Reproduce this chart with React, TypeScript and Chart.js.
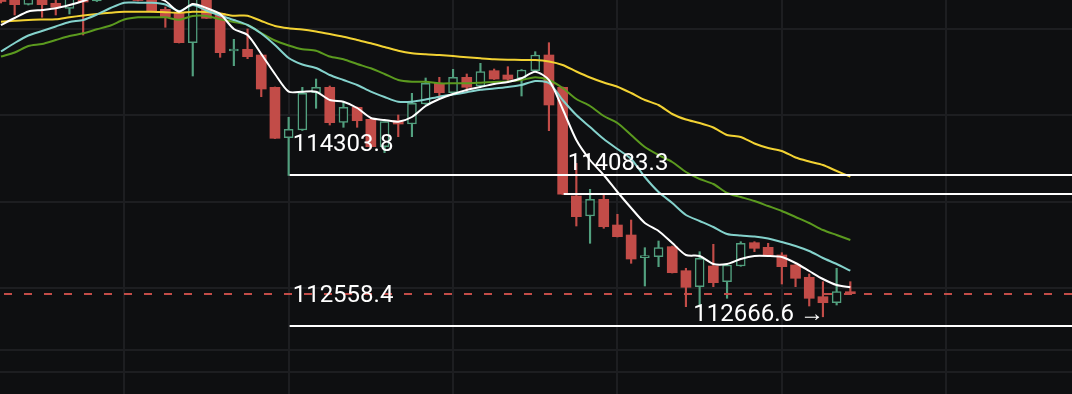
import React, { useEffect, useRef } from 'react';
import { Chart, registerables } from 'chart.js';

Chart.register(...registerables);

// ---- data (candle index 0 = first candle of the lower swing) ----
const firstIndex = -21;

const opens = [
  116393.8, 116405.4, 116286.1, 116382.2, 116297.7, 116239.8, 116382.2, 116324.3, 116451.7, 116544.4, 116428.6,
  116359.1, 116228.2, 116181.8, 115841.3, 116370.6, 116181.8, 115745.2, 115764.9, 115698.8, 115324.7,
  114740.9, 114830.1, 115262.2, 115324.7, 114919.3, 115093.0, 114954.0, 114636.7, 114937.8, 114899.6,
  115131.3, 115371.0, 115262.2, 115440.5, 115339.8, 115517.0, 115467.2, 115429.0, 115517.0, 115698.8,
  115324.7, 114065.6, 113834.0, 114027.4, 113729.7, 113613.9, 113351.0, 113362.6, 113478.4, 113200.4,
  113015.1, 113254.8, 113073.0, 113254.8, 113524.7, 113471.4, 113382.2, 113266.4, 113124.0, 112899.2,
  112829.7, 112957.1,
];
const highs = [
  116428.6, 116428.6, 116428.6, 116405.4, 116359.1, 116393.8, 116405.4, 116474.9, 116590.7, 116590.7, 116451.7,
  116382.2, 116254.8, 116196.9, 116382.2, 116393.8, 116185.3, 115880.7, 116000.0, 115710.4, 115328.2,
  114977.2, 115324.7, 115420.8, 115339.8, 115157.9, 115096.5, 114957.5, 114928.6, 115003.9, 115255.2,
  115432.4, 115440.5, 115533.2, 115478.8, 115602.7, 115536.7, 115563.3, 115530.9, 115737.1, 115841.3,
  115328.2, 114444.4, 114143.2, 114096.9, 113853.7, 113787.6, 113466.8, 113544.4, 113486.5, 113228.2,
  113420.5, 113506.2, 113269.9, 113536.3, 113536.3, 113517.8, 113408.9, 113269.9, 113162.2, 113073.0,
  113228.2, 113073.0,
];
const lows = [
  116301.2, 116162.2, 116278.0, 116135.5, 116162.2, 116173.7, 115930.5, 116318.5, 116428.6, 116451.7, 116324.3,
  116196.9, 116019.7, 115837.8, 115455.6, 116121.6, 115672.2, 115574.9, 115656.0, 115215.8, 114730.5,
  114303.8, 114824.3, 115081.5, 114888.0, 114861.4, 114861.4, 114621.6, 114567.2, 114752.5, 114752.5,
  115125.5, 115208.9, 115258.7, 115262.2, 115334.0, 115415.0, 115378.0, 115223.9, 115513.5, 114822.0,
  114083.3, 113718.1, 113517.8, 113691.5, 113590.7, 113286.1, 113023.2, 113246.7, 113173.7, 112783.4,
  112783.4, 113015.1, 112880.7, 113251.3, 113420.5, 113378.7, 113046.3, 113015.1, 112791.5, 112666.6,
  112803.1, 112930.5,
];
const closes = [
  116318.5, 116281.5, 116405.4, 116281.5, 116251.3, 116370.6, 116312.7, 116451.7, 116567.6, 116474.9, 116330.1,
  116200.4, 116142.5, 115841.3, 116359.1, 116123.9, 115725.5, 115750.9, 115679.1, 115305.0, 114734.0,
  114838.2, 115255.2, 115324.7, 114914.7, 115093.0, 114937.8, 114636.7, 114926.2, 114899.6, 115139.4,
  115371.0, 115262.2, 115440.5, 115324.7, 115505.4, 115420.8, 115417.4, 115525.1, 115698.8, 115119.7,
  114088.0, 113825.9, 114027.4, 113710.0, 113594.2, 113335.9, 113362.6, 113466.8, 113177.2, 113008.1,
  113344.0, 113061.4, 113266.4, 113517.8, 113459.8, 113382.2, 113246.7, 113112.4, 112880.7, 112829.7,
  112957.1, 112934.0,
];

const maWhite = [
  116046.3, 116127.4, 116202.7, 116220.1, 116239.8, 116278.0, 116324.3, 116382.2, 116428.6, 116451.7, 116428.6,
  116382.2, 116324.3, 116200.4, 116289.6, 116243.2, 116173.7, 116000.0, 115930.5, 115710.4, 115478.8,
  115273.7, 115273.7, 115273.7, 115177.6, 115157.9, 115084.9, 114969.1, 114945.9, 114926.2, 114980.7,
  115108.1, 115189.2, 115247.1, 115293.4, 115328.2, 115362.9, 115386.1, 115429.0, 115505.4, 115409.3,
  115073.4, 114714.3, 114482.6, 114308.9, 114112.0, 113926.6, 113752.9, 113660.2, 113521.2, 113382.2,
  113370.7, 113278.0, 113278.0, 113335.9, 113370.7, 113370.7, 113359.1, 113289.6, 113196.9, 113104.2,
  113034.7, 113008.1,
];
const maCyan = [
  115739.4, 115837.8, 115924.7, 115976.8, 116029.0, 116081.1, 116104.2, 116167.9, 116243.2, 116304.6, 116304.6,
  116303.5, 116283.8, 116208.5, 116278.0, 116214.3, 116156.4, 116104.2, 116046.3, 115947.9, 115814.7,
  115664.1, 115588.8, 115548.3, 115467.2, 115409.3, 115351.3, 115273.7, 115212.3, 115157.9, 115157.9,
  115183.4, 115215.8, 115241.3, 115266.8, 115295.7, 115310.8, 115328.2, 115351.3, 115397.7, 115374.5,
  115177.6, 115003.9, 114864.9, 114725.9, 114610.0, 114494.2, 114285.7, 114112.0, 113984.6, 113845.6,
  113776.1, 113706.6, 113625.5, 113608.1, 113596.5, 113573.4, 113532.8, 113486.5, 113428.6, 113347.5,
  113278.0, 113200.4,
];
const maGreen = [
  115681.5, 115727.8, 115803.1, 115826.2, 115872.6, 115918.9, 115950.2, 115996.5, 116040.5, 116110.0, 116135.5,
  116135.5, 116135.5, 116106.6, 116150.6, 116150.6, 116112.3, 116081.1, 116046.3, 115953.7, 115866.8,
  115808.9, 115764.9, 115748.6, 115681.5, 115649.0, 115594.6, 115544.8, 115478.8, 115409.3, 115389.6,
  115389.6, 115371.0, 115371.0, 115371.0, 115378.0, 115386.1, 115391.9, 115409.3, 115440.5, 115409.3,
  115316.6, 115189.2, 115108.1, 114992.3, 114911.2, 114772.2, 114633.2, 114540.5, 114459.5, 114343.6,
  114262.5, 114204.6, 114100.4, 114054.0, 114007.7, 113949.8, 113891.9, 113822.4, 113752.9, 113671.8,
  113613.9, 113556.0,
];
const maYellow = [
  116084.5, 116095.0, 116104.2, 116108.9, 116112.3, 116135.5, 116156.4, 116173.7, 116188.8, 116200.4, 116200.4,
  116200.4, 116194.6, 116188.8, 116200.4, 116196.9, 116179.5, 116154.0, 116154.0, 116092.7, 116034.7,
  116008.1, 115994.2, 115971.0, 115942.1, 115910.8, 115872.6, 115834.4, 115791.5, 115748.6, 115719.7,
  115706.9, 115698.8, 115687.3, 115672.2, 115660.6, 115650.2, 115644.4, 115640.9, 115640.9, 115623.5,
  115583.0, 115507.7, 115438.2, 115380.3, 115331.7, 115258.7, 115177.6, 115119.7, 115015.4, 114951.7,
  114911.2, 114859.1, 114772.2, 114749.0, 114673.7, 114621.6, 114586.9, 114511.6, 114465.2, 114424.7,
  114355.2, 114289.2,
];

// horizontal levels drawn from a candle to the right edge
const levelPrices = [114303.8, 114083.3, 112558.4];
const levelStartCandle = [0, 20, 0];
const levelLabels = ['114303.8', '114083.3', '112558.4'];
const lowMarkerCandle = 39;
const lowMarkerLabel = '112666.6 →';

const yGridValues = [116000, 115000, 114000, 113000, 112280, 112025];
const xGridValues = [-12, 0, 12, 24, 36, 48];
const yRange = [111772.2, 116335.9];
const xRange = [-21.07, 57.18];

// ---- styles ----
const BG = '#0e0f11';
const GRID = '#1d1e21';
const UP = '#52a07f';
const DOWN = '#c24c48';

export default function App() {
  const ref = useRef<HTMLCanvasElement | null>(null);

  useEffect(() => {
    document.body.style.margin = '0';
    document.body.style.background = BG;
    const canvas = ref.current;
    if (!canvas) return;

    const idx = opens.map((_, i) => firstIndex + i);
    const isUp = opens.map((o, i) => closes[i] >= o);

    const wickData = idx.map((x, i) => ({ x, y: [lows[i], highs[i]] }));
    const wickColors = isUp.map((u) => (u ? UP : DOWN));
    const upBodies = idx.filter((_, i) => isUp[i]).map((x) => {
      const i = x - firstIndex;
      return { x, y: [opens[i], closes[i]] };
    });
    const downBodies = idx.filter((_, i) => !isUp[i]).map((x) => {
      const i = x - firstIndex;
      return { x, y: [opens[i], closes[i]] };
    });
    const line = (arr: number[]) => idx.map((x, i) => ({ x, y: arr[i] }));

    const overlay = {
      id: 'overlay',
      beforeDraw(chart: any) {
        const { ctx, width, height } = chart;
        ctx.save();
        ctx.fillStyle = BG;
        ctx.fillRect(0, 0, width, height);
        ctx.restore();
      },
      afterDatasetsDraw(chart: any) {
        const { ctx, chartArea } = chart;
        const xs = chart.scales.x;
        const ys = chart.scales.y;
        ctx.save();
        // current price dashed line
        const lastClose = closes[closes.length - 1];
        const py = Math.round(ys.getPixelForValue(lastClose));
        ctx.strokeStyle = DOWN;
        ctx.lineWidth = 2;
        ctx.setLineDash([8, 12]);
        ctx.lineDashOffset = 16;
        ctx.beginPath();
        ctx.moveTo(chartArea.left, py);
        ctx.lineTo(chartArea.right, py);
        ctx.stroke();
        ctx.setLineDash([]);

        // levels
        ctx.strokeStyle = '#ffffff';
        ctx.fillStyle = '#ffffff';
        ctx.lineWidth = 2;
        ctx.font = '24px Roboto, "Noto Sans", sans-serif';
        ctx.textBaseline = 'alphabetic';
        levelPrices.forEach((p, i) => {
          const y = Math.round(ys.getPixelForValue(p));
          const x0 = xs.getPixelForValue(levelStartCandle[i]) + 1;
          ctx.beginPath();
          ctx.moveTo(x0, y);
          ctx.lineTo(chartArea.right, y);
          ctx.stroke();
          ctx.textAlign = 'left';
          ctx.fillText(levelLabels[i], x0 + (i === 1 ? 4 : 3), y - 24);
        });

        // low marker
        const li = lowMarkerCandle - firstIndex;
        const lx = xs.getPixelForValue(lowMarkerCandle) + 1;
        const ly = ys.getPixelForValue(lows[li]) + 4;
        ctx.textAlign = 'right';
        ctx.fillText(lowMarkerLabel, lx, ly);
        ctx.restore();
      },
    };

    const chart = new Chart(canvas, {
      type: 'bar',
      data: {
        datasets: [
          { type: 'line', data: line(maWhite), borderColor: '#ffffff', borderWidth: 2, pointRadius: 0, tension: 0.25, order: 0 } as any,
          { type: 'line', data: line(maCyan), borderColor: '#84d2cc', borderWidth: 2, pointRadius: 0, tension: 0.25, order: 1 } as any,
          { type: 'line', data: line(maGreen), borderColor: '#5b9a1f', borderWidth: 2, pointRadius: 0, tension: 0.25, order: 2 } as any,
          { type: 'line', data: line(maYellow), borderColor: '#f2d233', borderWidth: 2, pointRadius: 0, tension: 0.25, order: 3 } as any,
          {
            type: 'bar', data: upBodies, backgroundColor: BG, borderColor: UP, borderWidth: 1.5,
            borderSkipped: false, barThickness: 9, grouped: false, minBarLength: 2, order: 5,
          } as any,
          {
            type: 'bar', data: downBodies, backgroundColor: DOWN, borderWidth: 0,
            barThickness: 10, grouped: false, minBarLength: 1, order: 6,
          } as any,
          {
            type: 'bar', data: wickData, backgroundColor: wickColors, borderWidth: 0,
            barThickness: 1.5, grouped: false, order: 7,
          } as any,
        ],
      },
      options: {
        responsive: false,
        animation: false,
        devicePixelRatio: 1,
        layout: { padding: 0, autoPadding: false } as any,
        plugins: { legend: { display: false }, tooltip: { enabled: false } },
        events: [],
        scales: {
          x: {
            type: 'linear',
            min: xRange[0],
            max: xRange[1],
            offset: false,
            ticks: { display: false },
            border: { display: false },
            grid: { color: GRID, lineWidth: 2, drawTicks: false, offset: false },
            afterBuildTicks: (scale: any) => {
              scale.ticks = xGridValues.map((v) => ({ value: v }));
            },
          },
          y: {
            type: 'linear',
            min: yRange[0],
            max: yRange[1],
            ticks: { display: false },
            border: { display: false },
            grid: { color: GRID, lineWidth: 2, drawTicks: false },
            afterBuildTicks: (scale: any) => {
              scale.ticks = yGridValues.map((v) => ({ value: v }));
            },
          },
        },
      } as any,
      plugins: [overlay],
    });

    return () => chart.destroy();
  }, []);

  return (
    <div style={{ width: 1072, height: 394, background: BG }}>
      <canvas ref={ref} width={1072} height={394} style={{ display: 'block' }} />
    </div>
  );
}
